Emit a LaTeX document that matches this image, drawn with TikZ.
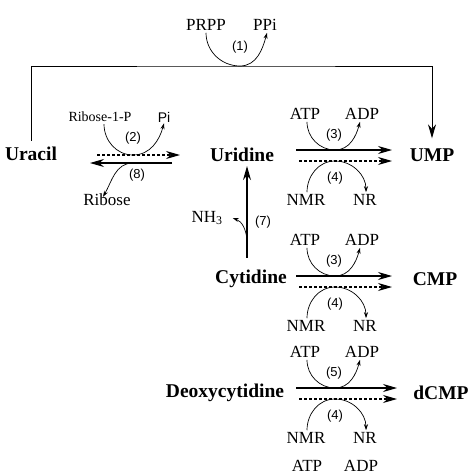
\documentclass[tikz,border=0pt]{standalone}
\usepackage{fontspec}
\setmainfont{Liberation Serif}
\newfontfamily\numfont{Liberation Sans}
\usetikzlibrary{arrows.meta}
\begin{document}
\begin{tikzpicture}[x=1pt,y=-1pt,
    cpd/.style={font=\fontsize{19.5}{19.5}\selectfont\bfseries,inner sep=2pt},
    cof/.style={font=\fontsize{17}{17}\selectfont,inner sep=2pt},
    num/.style={font=\fontsize{13}{13}\numfont,inner sep=1pt},
    main/.style={line width=1.1pt,-{Stealth[length=14pt,width=8pt]}},
    dsh/.style={dash pattern=on 3pt off 2pt},
    arc/.style={line width=0.7pt,-{Stealth[length=6pt,width=4pt]}}]
    \useasboundingbox (0,0) rectangle (474,474);
    % compounds
    \node[cpd] (uracil) at (31,154) {Uracil};
    \node[cpd] (uridine) at (242,155) {Uridine};
    \node[cpd] (ump) at (432,155) {UMP};
    \node[cpd] (cytidine) at (251,279) {Cytidine};
    \node[cpd] (cmp) at (435,279) {CMP};
    \node[cpd] (deoxy) at (225,393) {Deoxycytidine};
    \node[cpd] (dcmp) at (441,393) {dCMP};
    % (1) uracil -> UMP
    \node[cof] (prpp) at (206,25) {PRPP};
    \node[cof] (ppi) at (265,25) {PPi};
    \node[num] (k1) at (240,47) {(1)};
    \coordinate (top) at (240,66);
    \draw[main,line width=0.9pt,shorten <=4pt,shorten >=8pt] (uracil.north) |- (top) -| (ump.north);
    \draw[arc] (prpp.south) to[out=-90,in=180] (top) to[out=0,in=-105] ([xshift=2pt]ppi.south);
    % (2) and (8)
    \node[cof,font=\fontsize{14}{14}\selectfont] (rib1p) at (100,117) {Ribose-1-P};
    \node[num,font=\fontsize{14}{14}\numfont] (pi) at (164,117) {Pi};
    \node[num] (k2) at (133,138) {(2)};
    \node[num] (k8) at (137,175) {(8)};
    \node[cof] (ribose) at (107,200) {Ribose};
    \coordinate (r2) at (133,155);
    \coordinate (r8) at (133,163);
    \draw[main,dsh] (97,155) -- (180,155);
    \draw[main] (172,163) -- (90,163);
    \draw[arc] ([xshift=4pt]rib1p.south) to[out=-90,in=180] (r2) to[out=0,in=-105] (pi.south);
    \draw[arc] (r8) to[out=180,in=60] ([xshift=-4pt,yshift=-5pt]ribose.north);
    % (7) cytidine -> uridine
    \coordinate (v7) at (247,240);
    \node[num] (k7) at (263,222) {(7)};
    \node[cof] (nh3) at (207,218) {NH\textsubscript{3}};
    \draw[main,shorten <=10pt,shorten >=2pt] (cytidine.north -| v7) -- (uridine.south -| v7);
    \draw[arc] (v7) to[out=95,in=-20] ([xshift=8pt]nh3.east);
    % kinase (3)/(5) and phosphotransferase (4) rows
    \foreach \r/\y/\k/\xe in {u/150/3/392, c/276/3/392, d/388/5/397} {
        \coordinate (m\r) at (335,\y);
        \coordinate (dm\r) at (335,\y+11);
        \draw[main] (296,\y) -- (\xe,\y);
        \draw[main,dsh] (299,\y+11) -- (\xe,\y+11);
        \node[cof] (atp\r) at (305,\y-36) {ATP};
        \node[cof] (adp\r) at (362,\y-36) {ADP};
        \node[num] (k\r) at (334,\y-15) {(\k)};
        \node[num] (b\r) at (335,\y+28) {(4)};
        \node[cof] (nmr\r) at (306,\y+50) {NMR};
        \node[cof] (nr\r) at (365,\y+50) {NR};
        \draw[arc] ([xshift=2pt]atp\r.south) to[out=-90,in=180] (m\r) to[out=0,in=-105] ([xshift=-2pt]adp\r.south);
        \draw[arc] ([xshift=1pt]nmr\r.north) to[out=90,in=180] (dm\r) to[out=0,in=90] ([xshift=1pt]nr\r.north);
    }
    \node[cof] (atpx) at (307,466) {ATP};
    \node[cof] (adpx) at (361,466) {ADP};
\end{tikzpicture}
\end{document}
